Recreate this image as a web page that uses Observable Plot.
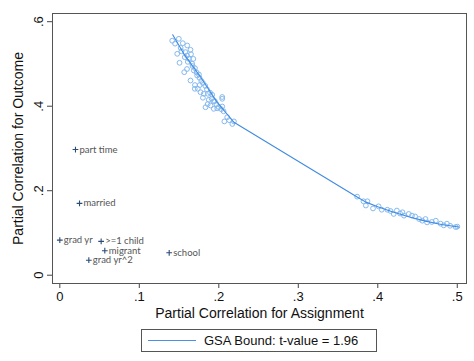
<!DOCTYPE html>
<html>
<head>
<meta charset="utf-8">
<script src="https://cdn.jsdelivr.net/npm/d3@7"></script>
<script src="https://cdn.jsdelivr.net/npm/@observablehq/plot@0.6"></script>
<style>
  html, body { margin: 0; padding: 0; background: #fff; }
  #wrap { position: relative; width: 474px; height: 361px; }
  #legend { position: absolute; left: 141px; top: 329px; width: 234px; height: 21px;
    border: 1px solid #555; font-family: "Liberation Sans", Arial, sans-serif; font-size: 13px; }
  #legend .ln { position: absolute; left: 6px; top: 10px; width: 48px; height: 0; border-top: 1px solid #4a90e2; }
  #legend .tx { position: absolute; left: 62px; top: 3px; color: #111; white-space: nowrap; }
</style>
</head>
<body>
<div id="wrap"><div id="chart"></div>
<div id="legend"><div class="ln"></div><div class="tx">GSA Bound: t-value = 1.96</div></div>
</div>
<script>
// Simulated pseudo-unobservables (circles)
const simX = [0.1414,0.1497,0.1547,0.1603,0.1644,0.1477,0.1506,0.1572,0.1623,0.1665,0.1565,0.1644,0.1686,0.1728,0.1757,
  0.1698,0.1736,0.1770,0.1811,0.1862,0.1917,0.1874,0.1833,0.1896,0.1937,0.2043,0.2043,0.2043,0.2106,0.207,0.213,0.219,0.217,0.1935,
  0.145,0.152,0.158,0.153,0.160,0.165,0.168,0.161,0.167,0.170,0.160,0.172,0.175,0.178,0.180,0.183,0.176,0.170,0.185,0.189,
  0.180,0.191,0.195,0.197,0.200,0.203,0.206,0.198,0.186,
  0.374,0.382,0.385,0.387,0.401,0.405,0.412,0.416,0.420,0.424,0.431,0.433,0.439,0.443,0.452,0.456,0.460,0.462,0.473,0.479,
  0.483,0.487,0.498,0.500,0.394,0.428,0.447,0.468,0.491];
const simY = [0.5550,0.5595,0.5491,0.5437,0.5335,0.5240,0.5027,0.5160,0.5122,0.5004,0.4805,0.4608,0.4845,0.4727,0.4672,
  0.4412,0.4412,0.4331,0.4294,0.4294,0.4270,0.4151,0.3976,0.4017,0.3938,0.4175,0.4218,0.3993,0.3740,0.364,0.367,0.364,0.358,0.4115,
  0.548,0.538,0.528,0.530,0.520,0.523,0.512,0.505,0.495,0.490,0.488,0.480,0.475,0.460,0.455,0.448,0.450,0.450,0.440,0.432,
  0.420,0.418,0.412,0.405,0.398,0.393,0.388,0.395,0.405,
  0.186,0.175,0.165,0.175,0.163,0.155,0.155,0.152,0.145,0.153,0.149,0.141,0.145,0.141,0.133,0.129,0.133,0.125,0.129,0.122,
  0.118,0.122,0.114,0.115,0.158,0.146,0.139,0.126,0.117];

// Fitted bound line
const fitX = [0.142,0.156,0.177,0.198,0.219,0.374,0.385,0.400,0.420,0.440,0.460,0.480,0.502];
const fitY = [0.569,0.524,0.469,0.409,0.362,0.185,0.173,0.162,0.149,0.138,0.128,0.120,0.114];

// Observed covariates (plus markers)
const covNames = ["part time","married","grad yr",">=1 child","migrant","grad yr^2","school"];
const covX = [0.0197,0.0248,0.0,0.052,0.0566,0.0365,0.1376];
const covY = [0.2975,0.170,0.083,0.080,0.058,0.0355,0.053];

const xTicks = [0,0.1,0.2,0.3,0.4,0.5];
const yTicks = [0,0.2,0.4,0.6];
const xTitle = "Partial Correlation for Assignment";
const yTitle = "Partial Correlation for Outcome";

const sims = simX.map((x,i)=>({x, y: simY[i]}));
const fit = fitX.map((x,i)=>({x, y: fitY[i]}));
const covs = covNames.map((n,i)=>({name:n, x: covX[i], y: covY[i]}));
const fmt = d => d === 0 ? "0" : String(+d.toFixed(1)).replace(/^0/, "");

const chart = Plot.plot({
  width: 474, height: 322,
  marginLeft: 52, marginRight: 8, marginTop: 13, marginBottom: 39,
  x: {domain: [-0.0092, 0.5116]},
  y: {domain: [-0.0196, 0.6194]},
  style: {fontFamily: "'Liberation Sans', Arial, sans-serif", background: "white", color: "#111"},
  marks: [
    Plot.axisX({ticks: xTicks, tickSize: 5, tickPadding: 3, tickFormat: fmt, fontSize: 13, label: null, stroke: "#444"}),
    Plot.axisY({ticks: yTicks, tickSize: 5, tickFormat: () => "", label: null, stroke: "#444"}),
    Plot.text(yTicks, {y: d => d, text: fmt, frameAnchor: "left", dx: -14, rotate: -90, textAnchor: "middle", lineAnchor: "middle", fontSize: 13}),
    Plot.text([yTitle], {text: d => d, frameAnchor: "left", dx: -34, rotate: -90, textAnchor: "middle", fontSize: 14, lineAnchor: "middle"}),
    Plot.text([xTitle], {text: d => d, frameAnchor: "bottom", dy: 30, textAnchor: "middle", fontSize: 14, lineAnchor: "middle"}),
    Plot.dot(sims, {x: "x", y: "y", r: 2.4, stroke: "#86b9ef", strokeWidth: 1, fill: "none"}),
    Plot.line(fit, {x: "x", y: "y", stroke: "#3f8be0", strokeWidth: 1.1}),
    Plot.dot(covs, {x: "x", y: "y", symbol: "plus", r: 2, stroke: "#2a4a78", strokeWidth: 1.1}),
    Plot.text(covs, {x: "x", y: "y", text: "name", dx: 4, textAnchor: "start", lineAnchor: "middle", fontSize: 9.5, fill: "#555", fontFamily: "Lato, 'Open Sans', sans-serif"}),
    Plot.frame({stroke: "#555"})
  ]
});
document.getElementById("chart").appendChild(chart);
</script>
</body>
</html>
